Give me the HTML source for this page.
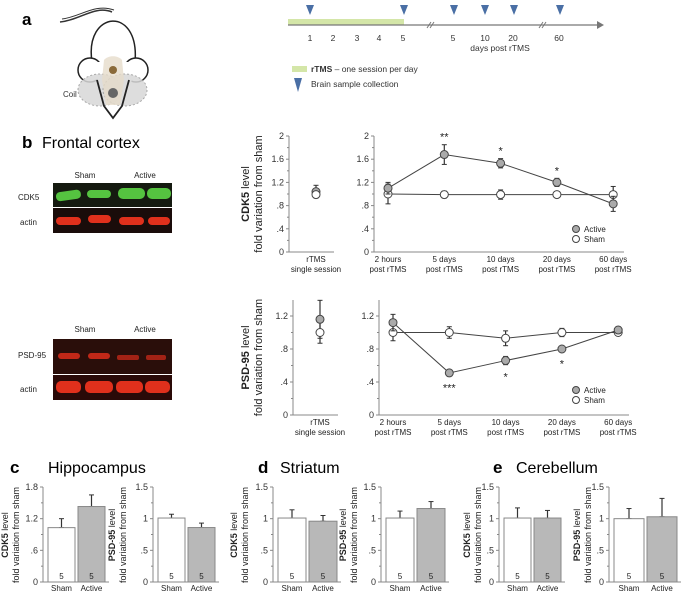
<!DOCTYPE html>
<html><head><meta charset="utf-8"><style>
body{margin:0;background:#fff}
svg{display:block;font-family:"Liberation Sans",Arial,sans-serif}
</style></head><body>
<svg id="fig" width="685" height="593" viewBox="0 0 685 593">
<!-- panel a -->
<text x="22" y="25" font-size="17" font-weight="bold">a</text>
<g>
 <path d="M60,22 C80,20 95,5 112,12" fill="none" stroke="#333" stroke-width="1.5"/>
 <path d="M62,19 C80,17 95,3 114,10" fill="none" stroke="#333" stroke-width="1"/>
 <path d="M92,62 C84,10 140,5 135,62" fill="none" stroke="#222" stroke-width="1.5"/>
 <circle cx="90" cy="70" r="12" fill="#fff" stroke="#222" stroke-width="1.5"/>
 <circle cx="136" cy="70" r="12" fill="#fff" stroke="#222" stroke-width="1.5"/>
 <path d="M95,62 L135,62 L128,100 L113,118 L99,100 Z" fill="#fff"/>
 <ellipse cx="100" cy="90" rx="22" ry="16" fill="#d8d8d8" stroke="#999" stroke-dasharray="2,2" opacity="0.85"/>
 <ellipse cx="125" cy="90" rx="22" ry="16" fill="#d8d8d8" stroke="#999" stroke-dasharray="2,2" opacity="0.85"/>
 <path d="M104,60 C108,55 118,55 122,60 L124,80 L120,105 L106,105 L102,80 Z" fill="#e6dccb" opacity="0.8"/>
 <circle cx="113" cy="70" r="4" fill="#8a6a3a"/>
 <path d="M97,80 L104,106 L113,118 L122,106 L129,80" fill="none" stroke="#222" stroke-width="1.8"/>
 <circle cx="113" cy="93" r="5" fill="#666"/>
 <text x="63" y="97" font-size="8" fill="#333">Coil</text>
</g>
<g>
 <rect x="288" y="19" width="116" height="6" fill="#d4e6a8"/>
 <line x1="288" y1="25" x2="598" y2="25" stroke="#777" stroke-width="1.2"/>
 <path d="M597,21 L604,25 L597,29 Z" fill="#777"/>
 <path d="M427,28 L431,22 M430,28 L434,22 M539,28 L543,22 M542,28 L546,22" stroke="#777" stroke-width="1"/>
 <g fill="#4a6fa5">
  <path d="M306,5 L314,5 L310,15 Z"/><path d="M400,5 L408,5 L404,15 Z"/><path d="M450,5 L458,5 L454,15 Z"/>
  <path d="M481,5 L489,5 L485,15 Z"/><path d="M510,5 L518,5 L514,15 Z"/><path d="M556,5 L564,5 L560,15 Z"/>
 </g>
 <g font-size="8.5" fill="#333" text-anchor="middle">
  <text x="310" y="41">1</text><text x="333" y="41">2</text><text x="357" y="41">3</text><text x="379" y="41">4</text><text x="403" y="41">5</text>
  <text x="453" y="41">5</text><text x="485" y="41">10</text><text x="513" y="41">20</text><text x="559" y="41">60</text>
  <text x="500" y="51">days post  rTMS</text>
 </g>
 <rect x="292" y="66" width="15" height="6" fill="#d4e6a8"/>
 <text x="311" y="72" font-size="8.5" fill="#333"><tspan font-weight="bold">rTMS</tspan> – one session per day</text>
 <path d="M294,78 L302,78 L298,92 Z" fill="#4a6fa5"/>
 <text x="311" y="87" font-size="8.5" fill="#333">Brain sample collection</text>
</g>
<!-- panel b -->
<text x="22" y="148" font-size="17" font-weight="bold">b</text>
<text x="42" y="148" font-size="16">Frontal cortex</text>
<g font-size="8" fill="#222">
 <text x="85" y="178" text-anchor="middle">Sham</text><text x="145" y="178" text-anchor="middle">Active</text>
 <text x="18" y="200">CDK5</text><text x="20" y="225">actin</text>
 <rect x="53" y="183" width="119" height="24" fill="#151a10"/>
 <rect x="53" y="208" width="119" height="25" fill="#1a0c0a"/>
 <g fill="#55c340"><rect x="56" y="191" width="25" height="9" rx="4" transform="rotate(-8 68 196)"/><rect x="87" y="190" width="24" height="8" rx="4"/><rect x="118" y="188" width="27" height="11" rx="5"/><rect x="147" y="188" width="24" height="11" rx="5"/></g>
 <g fill="#e0301c"><rect x="56" y="217" width="25" height="8" rx="4"/><rect x="88" y="215" width="23" height="8" rx="4"/><rect x="119" y="217" width="25" height="8" rx="4"/><rect x="148" y="217" width="22" height="8" rx="4"/></g>
</g>
<g font-size="8" fill="#222">
 <text x="85" y="332" text-anchor="middle">Sham</text><text x="145" y="332" text-anchor="middle">Active</text>
 <text x="18" y="358">PSD-95</text><text x="20" y="392">actin</text>
 <rect x="53" y="339" width="119" height="35" fill="#2a0e0a"/>
 <rect x="53" y="375" width="119" height="25" fill="#2a0a08"/>
 <g fill="#c02818"><rect x="58" y="353" width="22" height="6" rx="3"/><rect x="88" y="353" width="22" height="6" rx="3"/><rect x="117" y="355" width="22" height="5" rx="2" opacity="0.8"/><rect x="146" y="355" width="20" height="5" rx="2" opacity="0.8"/></g>
 <g fill="#e0301c"><rect x="56" y="381" width="25" height="12" rx="5"/><rect x="85" y="381" width="28" height="12" rx="5"/><rect x="116" y="381" width="27" height="12" rx="5"/><rect x="145" y="381" width="25" height="12" rx="5"/></g>
</g>
<g id="charts"></g>
<!-- panel titles c d e -->
<text x="10" y="473" font-size="17" font-weight="bold">c</text>
<text x="48" y="473" font-size="16">Hippocampus</text>
<text x="258" y="473" font-size="17" font-weight="bold">d</text>
<text x="280" y="473" font-size="16">Striatum</text>
<text x="493" y="473" font-size="17" font-weight="bold">e</text>
<text x="516" y="473" font-size="16">Cerebellum</text>
</svg>
<script>
// ---- CDK5 time-course data ----
const timeCats = ["2 hours", "5 days", "10 days", "20 days", "60 days"];
const cdk5Active = [1.10, 1.68, 1.53, 1.20, 0.83];
const cdk5ActiveErr = [0.10, 0.17, 0.08, 0.07, 0.13];
const cdk5Sham = [1.00, 0.99, 0.99, 0.99, 0.99];
const cdk5ShamErr = [0.17, 0.06, 0.08, 0.03, 0.14];
const cdk5Stars = ["", "**", "*", "*", ""];
const cdk5SingleActive = [1.04];
const cdk5SingleActiveErr = [0.11];
const cdk5SingleSham = [0.99];
const cdk5SingleShamErr = [0.04];
const cdk5Ticks = ["0", ".4", ".8", "1.2", "1.6", "2"];
const cdk5TickVals = [0, 0.4, 0.8, 1.2, 1.6, 2];
// ---- PSD-95 time-course data ----
const psdActive = [1.12, 0.51, 0.66, 0.80, 1.03];
const psdActiveErr = [0.10, 0.03, 0.05, 0.03, 0.04];
const psdSham = [1.00, 1.00, 0.93, 1.00, 1.00];
const psdShamErr = [0.10, 0.07, 0.09, 0.05, 0.03];
const psdStars = ["", "***", "*", "*", ""];
const psdSingleActive = [1.16];
const psdSingleActiveErr = [0.23];
const psdSingleSham = [1.00];
const psdSingleShamErr = [0.13];
const psdTicks = ["0", ".4", ".8", "1.2"];
const psdTickVals = [0, 0.4, 0.8, 1.2];
// ---- bar chart data (Sham, Active) ----
const barCats = ["Sham", "Active"];
const hipCdk5 = [1.03, 1.43];  const hipCdk5Err = [0.17, 0.22];
const hipPsd = [1.01, 0.86];   const hipPsdErr = [0.06, 0.07];
const strCdk5 = [1.01, 0.96];  const strCdk5Err = [0.13, 0.09];
const strPsd = [1.01, 1.16];   const strPsdErr = [0.11, 0.11];
const cerCdk5 = [1.01, 1.01];  const cerCdk5Err = [0.16, 0.12];
const cerPsd = [1.00, 1.03];   const cerPsdErr = [0.16, 0.29];
const barN = ["5", "5"];
const hipCdk5Ticks = [0, 0.6, 1.2, 1.8];
const hipCdk5Labels = ["0", ".6", "1.2", "1.8"];
const stdTicks = [0, 0.5, 1, 1.5];
const stdLabels = ["0", ".5", "1", "1.5"];

const NS = "http://www.w3.org/2000/svg";
const root = document.getElementById("charts");
function mk(tag, attrs, parent, text) {
  const e = document.createElementNS(NS, tag);
  for (const k in attrs) e.setAttribute(k, attrs[k]);
  if (text !== undefined) e.textContent = text;
  (parent || root).appendChild(e);
  return e;
}
function yLabels(g, x, cy, bold, sub, fs) {
  const t = mk("text", {x: 0, y: 0, "font-size": fs, "text-anchor": "middle", fill: "#222", transform: `translate(${x},${cy}) rotate(-90)`}, g);
  mk("tspan", {x: 0, dy: 0, "font-weight": "bold"}, t, bold);
  mk("tspan", {"font-weight": "normal"}, t, " level");
  mk("tspan", {x: 0, dy: fs + 2}, t, sub);
}
function axisY(g, ax, y0, yTop, vmax, vals, labels, fs, minor) {
  const ys = v => y0 - (y0 - yTop) * v / vmax;
  mk("line", {x1: ax, y1: yTop, x2: ax, y2: y0, stroke: "#888", "stroke-width": 1}, g);
  vals.forEach((v, i) => {
    mk("line", {x1: ax - 3, y1: ys(v), x2: ax, y2: ys(v), stroke: "#888"}, g);
    mk("text", {x: ax - 5, y: ys(v) + 3, "font-size": fs, "text-anchor": "end", fill: "#333"}, g, labels[i]);
  });
  if (minor) for (let i = 0; i < vals.length - 1; i++) {
    const m = (vals[i] + vals[i + 1]) / 2;
    mk("line", {x1: ax - 2, y1: ys(m), x2: ax, y2: ys(m), stroke: "#888"}, g);
  }
  return ys;
}
function errBar(g, x, y1, y2) {
  mk("line", {x1: x, y1: y1, x2: x, y2: y2, stroke: "#333", "stroke-width": 1.2}, g);
  mk("line", {x1: x - 2.5, y1: y1, x2: x + 2.5, y2: y1, stroke: "#333"}, g);
  mk("line", {x1: x - 2.5, y1: y2, x2: x + 2.5, y2: y2, stroke: "#333"}, g);
}
function lineChart(cfg) {
  const g = mk("g", {});
  
  
  yLabels(g, cfg.labX, (cfg.y0 + cfg.yTop) / 2, cfg.prot, "fold variation from sham", 11);
  const ys1 = axisY(g, cfg.sx, cfg.y0, cfg.yTop, cfg.vmax, cfg.tickVals, cfg.ticks, 9, true);
  mk("line", {x1: cfg.sx, y1: cfg.y0, x2: cfg.sx + 45, y2: cfg.y0, stroke: "#888"}, g);
  const px = cfg.sx + 27;
  mk("text", {x: px, y: cfg.y0 + 10, "font-size": 8, "text-anchor": "middle", fill: "#222"}, g, "rTMS");
  mk("text", {x: px, y: cfg.y0 + 20, "font-size": 8, "text-anchor": "middle", fill: "#222"}, g, "single session");
  errBar(g, px, ys1(cfg.sA[0] + cfg.sAe[0]), ys1(cfg.sA[0] - cfg.sAe[0]));
  errBar(g, px, ys1(cfg.sS[0] + cfg.sSe[0]), ys1(cfg.sS[0] - cfg.sSe[0]));
  const sa = mk("circle", {cx: px, cy: ys1(cfg.sA[0]), r: 4, fill: "#aaa", stroke: "#444"}, g);
  
  
  const ss = mk("circle", {cx: px, cy: ys1(cfg.sS[0]), r: 4, fill: "#fff", stroke: "#444"}, g);
  
  
  const ys = axisY(g, cfg.mx, cfg.y0, cfg.yTop, cfg.vmax, cfg.tickVals, cfg.ticks, 9, true);
  mk("line", {x1: cfg.mx, y1: cfg.y0, x2: cfg.mx + 250, y2: cfg.y0, stroke: "#888"}, g);
  const xs = i => cfg.mx + 14 + i * 56.3;
  timeCats.forEach((c, i) => {
    mk("text", {x: xs(i), y: cfg.y0 + 10, "font-size": 8, "text-anchor": "middle", fill: "#222"}, g, c);
    mk("text", {x: xs(i), y: cfg.y0 + 20, "font-size": 8, "text-anchor": "middle", fill: "#222"}, g, "post rTMS");
  });
  [[cfg.S, cfg.Se, "#fff", "sham"], [cfg.A, cfg.Ae, "#aaa", "active"]].forEach(([vals, errs, fill, nm]) => {
    const pl = mk("polyline", {points: vals.map((v, i) => xs(i) + "," + ys(v)).join(" "), fill: "none", stroke: "#444", "stroke-width": 1}, g);
    
    
    vals.forEach((v, i) => errBar(g, xs(i), ys(v + errs[i]), ys(v - errs[i])));
    vals.forEach((v, i) => {
      const c = mk("circle", {cx: xs(i), cy: ys(v), r: 4, fill: fill, stroke: "#444"}, g);
      
      
    });
  });
  cfg.stars.forEach((s, i) => {
    if (!s) return;
    const y = cfg.starsBelow ? ys(cfg.A[i] - cfg.Ae[i]) + 16 : ys(cfg.A[i] + cfg.Ae[i]) - 4;
    mk("text", {x: xs(i), y: y, "font-size": 11, "text-anchor": "middle", fill: "#222"}, g, s);
  });
  const lg = mk("g", {}, g);
  
  
  mk("circle", {cx: 576, cy: cfg.legY, r: 3.5, fill: "#aaa", stroke: "#444"}, lg);
  mk("text", {x: 584, y: cfg.legY + 3, "font-size": 8, fill: "#222"}, lg, "Active");
  mk("circle", {cx: 576, cy: cfg.legY + 10, r: 3.5, fill: "#fff", stroke: "#444"}, lg);
  mk("text", {x: 584, y: cfg.legY + 13, "font-size": 8, fill: "#222"}, lg, "Sham");
}
lineChart({name: "cdk5-timecourse-chart", prot: "CDK5", labX: 249, y0: 252, yTop: 136, vmax: 2, ticks: cdk5Ticks, tickVals: cdk5TickVals,
  sx: 289, mx: 374, A: cdk5Active, Ae: cdk5ActiveErr, S: cdk5Sham, Se: cdk5ShamErr, stars: cdk5Stars, starsBelow: false,
  sA: cdk5SingleActive, sAe: cdk5SingleActiveErr, sS: cdk5SingleSham, sSe: cdk5SingleShamErr, legY: 229});
lineChart({name: "psd95-timecourse-chart", prot: "PSD-95", labX: 249, y0: 415, yTop: 300, vmax: 1.394, ticks: psdTicks, tickVals: psdTickVals,
  sx: 293, mx: 379, A: psdActive, Ae: psdActiveErr, S: psdSham, Se: psdShamErr, stars: psdStars, starsBelow: true,
  sA: psdSingleActive, sAe: psdSingleActiveErr, sS: psdSingleSham, sSe: psdSingleShamErr, legY: 390});

function barChart(name, prot, ax, labX, vals, errs, tickV, tickL, w) {
  const g = mk("g", {});
  
  
  const y0 = 582, yTop = 487;
  yLabels(g, labX, 535, prot, "fold variation from sham", 9);
  const ys = axisY(g, ax, y0, yTop, tickV[tickV.length - 1], tickV, tickL, 9, true);
  mk("line", {x1: ax, y1: y0, x2: ax + 2 * w + 12, y2: y0, stroke: "#888"}, g);
  vals.forEach((v, i) => {
    const x = ax + 5 + i * (w + 3);
    errBar(g, x + w / 2, ys(v + errs[i]), ys(v));
    const r = mk("rect", {x: x, y: ys(v), width: w, height: y0 - ys(v), fill: i ? "#b8b8b8" : "#fff", stroke: "#888", "stroke-width": 1}, g);
    
    
    mk("text", {x: x + w / 2, y: y0 - 3, "font-size": 8, "text-anchor": "middle", fill: "#222"}, g, barN[i]);
    mk("text", {x: x + w / 2, y: y0 + 9, "font-size": 8, "text-anchor": "middle", fill: "#222"}, g, barCats[i]);
  });
}
barChart("hippocampus-cdk5-bars", "CDK5", 43, 8, hipCdk5, hipCdk5Err, hipCdk5Ticks, hipCdk5Labels, 27);
barChart("hippocampus-psd95-bars", "PSD-95", 153, 115, hipPsd, hipPsdErr, stdTicks, stdLabels, 27);
barChart("striatum-cdk5-bars", "CDK5", 273, 237, strCdk5, strCdk5Err, stdTicks, stdLabels, 28);
barChart("striatum-psd95-bars", "PSD-95", 381, 346, strPsd, strPsdErr, stdTicks, stdLabels, 28);
barChart("cerebellum-cdk5-bars", "CDK5", 499, 470, cerCdk5, cerCdk5Err, stdTicks, stdLabels, 27);
barChart("cerebellum-psd95-bars", "PSD-95", 609, 580, cerPsd, cerPsdErr, stdTicks, stdLabels, 30);
</script>
</body></html>
